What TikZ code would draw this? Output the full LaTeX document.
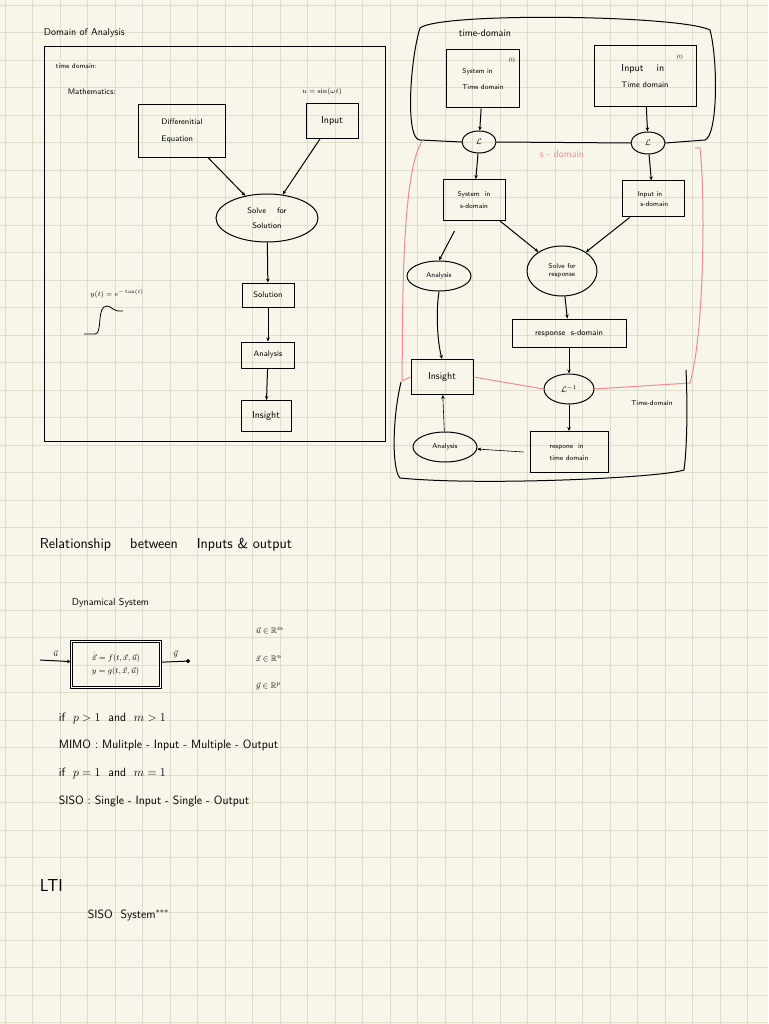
\documentclass[tikz,border=0pt]{standalone}
\usepackage{amsmath,amssymb}
\usetikzlibrary{positioning,arrows.meta,shapes.geometric}
\definecolor{paper}{RGB}{248,246,234}
\definecolor{gridc}{RGB}{222,222,205}
\definecolor{sred}{RGB}{240,140,140}
\begin{document}
\begin{tikzpicture}
    [
      x=1pt, y=-1pt,
      >/.tip={Stealth[length=4pt,width=3.5pt]},
      line width=1pt,
      every node/.style={font=\sffamily\footnotesize},
      my box/.style={draw, align=left, inner sep=3pt},
      my oval/.style={draw, ellipse, align=center, inner sep=1pt},
      my text/.style={anchor=west},
      my big/.style={anchor=west, font=\sffamily\Large}
    ]
    \useasboundingbox (0,0) rectangle (768,1024);
    \fill [paper] (0,0) rectangle (768,1024);
    \foreach \k in {0,...,27}
      \draw [gridc, line width=0.6pt] (\k*27.5+5,0) -- (\k*27.5+5,1024);
    \foreach \k in {0,...,37}
      \draw [gridc, line width=0.6pt] (0,\k*27.5+5) -- (768,\k*27.5+5);
    % left: time domain
    \node (title) [my text, font=\sffamily\normalsize] at (40,33) {Domain of Analysis};
    \draw (44,47) rectangle (385,441);
    \node (td) [my text, font=\sffamily\scriptsize] at (52,66) {time domain:};
    \node (math) [my text] at (64,92) {Mathematics:};
    \node (usin) [font=\sffamily\scriptsize] at (322,92) {$u = \sin(\omega t)$};
    \node (deq) [my box, minimum width=87pt, minimum height=53pt] at (182,131) {Differenitial\\[8pt]Equation};
    \node (inp) [my box, minimum width=52pt, minimum height=35pt] at (332,121) {\normalsize Input};
    \node (solve) [my oval, minimum width=102pt, minimum height=48pt] at (267,218) {Solve \quad for\\[5pt]Solution};
    \node (sol) [my box, minimum width=52pt, minimum height=24pt] at (268,295) {Solution};
    \node (ana) [my box, minimum width=53pt, minimum height=26pt] at (268,355) {Analysis};
    \node (ins) [my box, minimum width=50pt, minimum height=31pt] at (266,416) {\normalsize Insight};
    \draw [->] (deq) -- (solve);
    \draw [->] (inp) -- (solve);
    \draw [->] (solve) -- (sol);
    \draw [->] (sol) -- (ana);
    \draw [->] (ana) -- (ins);
    \node (yt) [font=\sffamily\scriptsize] at (117,294) {$y(t) = e^{-\tan(t)}$};
    \draw [line width=0.8pt] (84,334) -- (95,334) .. controls (103,334) and (96,306) .. (107,306) .. controls (112,306) and (112,312) .. (123,311);
    % right: domains
    \node (sys) [my box, minimum width=73pt, minimum height=58pt, font=\sffamily\scriptsize] at (483,79) {System in\\[8pt]Time domain};
    \node (syst) [font=\sffamily\tiny] at (512,60) {(t)};
    \node (inpt) [my box, minimum width=102pt, minimum height=61pt] at (645,76) {\normalsize Input \quad in\\[6pt]Time domain};
    \node (inptt) [font=\sffamily\tiny] at (680,57) {(t)};
    \node (lap1) [my oval, minimum width=34pt, minimum height=22pt] at (479,142) {$\mathcal{L}$};
    \node (lap2) [my oval, minimum width=34pt, minimum height=22pt] at (648,143) {$\mathcal{L}$};
    \node (syss) [my box, minimum width=62pt, minimum height=41pt, font=\sffamily\scriptsize] at (474,200) {System \ in\\[4pt]\ s-domain};
    \node (inps) [my box, minimum width=62pt, minimum height=36pt, font=\sffamily\scriptsize] at (653,199) {Input in\\[2pt]\ s-domain};
    \node (ana1) [my oval, minimum width=64pt, minimum height=30pt, font=\sffamily\scriptsize] at (439,276) {Analysis};
    \node (resp) [my oval, minimum width=70pt, minimum height=50pt, font=\sffamily\scriptsize] at (562,271) {Solve for\\response};
    \node (resps) [my box, minimum width=114pt, minimum height=28pt] at (569,333) {response \ s-domain};
    \node (ins2) [my box, minimum width=62pt, minimum height=35pt] at (442,377) {\normalsize Insight};
    \node (ilap) [my oval, minimum width=50pt, minimum height=30pt] at (569,389) {$\mathcal{L}^{-1}$};
    \node (respt) [my box, minimum width=78pt, minimum height=41pt, font=\sffamily\scriptsize] at (569,452) {respone \ in\\[4pt]time domain};
    \node (ana2) [my oval, minimum width=64pt, minimum height=30pt, font=\sffamily\scriptsize] at (445,447) {Analysis};
    % domain outlines
    \draw (420,140) .. controls (405,140) and (410,60) .. (420,28) .. controls (440,12) and (680,15) .. (710,30) .. controls (718,60) and (718,135) .. (705,140) -- (lap2.east);
    \draw (lap2.west) -- (lap1.east);
    \draw (lap1.west) -- (420,140);
    \node (tdom) [font=\sffamily\normalsize] at (485,33) {time-domain};
    \draw [sred] (423,140) .. controls (400,170) and (403,330) .. (402,381) -- (ins2.west);
    \draw [sred] (ins2.east) -- (ilap.west);
    \draw [sred] (ilap.east) -- (690,383) .. controls (705,330) and (705,190) .. (700,148) -- (695,148);
    \node (sdom) [text=sred, font=\sffamily\normalsize] at (562,154) {s - domain};
    \draw (401,382) .. controls (392,420) and (392,470) .. (400,478) .. controls (480,486) and (660,478) .. (684,470) .. controls (688,440) and (687,390) .. (686,370);
    \node (tdom2) [font=\sffamily\scriptsize] at (652,403) {Time-domain};
    \draw [->] (sys) -- (lap1);
    \draw [->] (inpt) -- (lap2);
    \draw [->] (lap1) -- (syss);
    \draw [->] (lap2) -- (inps);
    \draw [->] (syss.south west) ++(12,10) -- (ana1.north);
    \draw [->] (syss) -- (resp);
    \draw [->] (inps) -- (resp);
    \draw [->] (resp) -- (resps);
    \draw [->] (resps) -- (ilap);
    \draw [->] (ilap) -- (respt);
    \draw [->] (ana1.south) .. controls (436,310) and (437,340) .. (ins2.north);
    \draw [->, line width=0.6pt] (respt.west) ++(-6,0) -- (ana2);
    \draw [->, line width=0.6pt] (ana2) -- (ins2);
    % bottom: inputs and output
    \node (rel) [my big] at (36,545) {Relationship \quad between \quad Inputs \& output};
    \node (dyn) [my text, font=\sffamily\normalsize] at (68,603) {Dynamical System};
    \node (dsys) [my box, inner sep=2pt, minimum width=89pt, minimum height=46pt, double, double distance=1pt] at (116,664) {$\dot{\vec{x}} = f(t,\vec{x},\vec{u})$\\[4pt]$y = g(t,\vec{x},\vec{u})$};
    \coordinate (uin) at (40,660);
    \coordinate (yout) at (190,661);
    \draw [->] (uin) -- node [above] {$\vec{u}$} (dsys);
    \draw [-{Circle[length=4pt]}] (dsys) -- node [above] {$\vec{y}$} (yout);
    \node (ur) [my text] at (252,631) {$\vec{u} \in \mathbb{R}^m$};
    \node (xr) [my text] at (252,659) {$\vec{x} \in \mathbb{R}^n$};
    \node (yr) [my text] at (252,686) {$\vec{y} \in \mathbb{R}^p$};
    \node (if1) [my text, font=\sffamily\large] at (55,718) {if \ $p>1$ \ and \ $m>1$};
    \node (mimo) [my text, font=\sffamily\large] at (55,745) {MIMO : Mulitple - Input - Multiple - Output};
    \node (if2) [my text, font=\sffamily\large] at (55,773) {if \ $p=1$ \ and \ $m=1$};
    \node (siso) [my text, font=\sffamily\large] at (55,801) {SISO : Single - Input - Single - Output};
    \node (lti) [my big, font=\sffamily\LARGE] at (36,885) {LTI};
    \node (sisos) [my text, font=\sffamily\large] at (84,915) {SISO \ System$^{***}$};
\end{tikzpicture}
\end{document}
